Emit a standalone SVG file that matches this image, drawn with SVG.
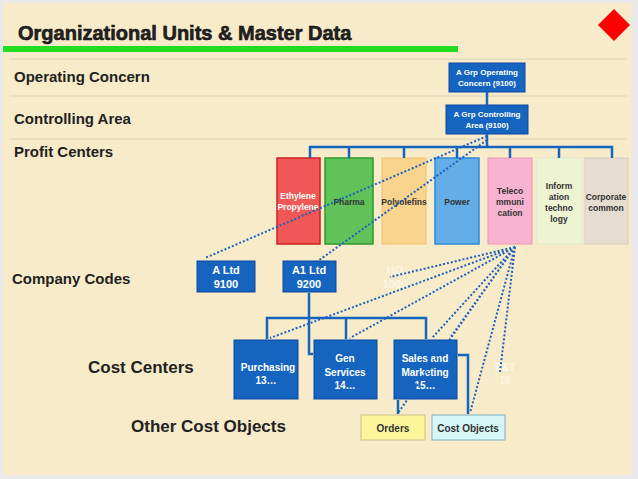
<svg xmlns="http://www.w3.org/2000/svg" width="638" height="479" viewBox="0 0 638 479">
<defs><style>
.lbl{font-family:"Liberation Sans",Arial,sans-serif;font-weight:bold;fill:#222}
.bx{fill:#1565c0;stroke:#0d47a1;stroke-width:1}
.wt{font-family:"Liberation Sans",Arial,sans-serif;font-weight:bold;fill:#fff;text-anchor:middle}
.dk{font-family:"Liberation Sans",Arial,sans-serif;font-weight:bold;fill:#333;text-anchor:middle;font-size:8.5px}
.tree{stroke:#1565c0;stroke-width:2.5;fill:none}
.dot{stroke:#1e5fc0;stroke-width:2;stroke-dasharray:2 2;fill:none}
.sep{stroke:#ddd3bb;stroke-width:1}
</style></defs>
<rect width="638" height="479" fill="#e9e9e9"/>
<rect x="3" y="3" width="628" height="472" fill="#f8ebc9"/>
<text x="18" y="40" class="lbl" font-size="20" fill="#111" stroke="#111" stroke-width="0.6">Organizational Units &amp; Master Data</text>
<rect x="3" y="46" width="455" height="6" fill="#22dd22"/>
<polygon points="614,9 630,25 614,41 598,25" fill="#ff0000"/>
<line class="sep" x1="10" y1="59" x2="627" y2="59"/>
<line class="sep" x1="10" y1="96" x2="627" y2="96"/>
<line class="sep" x1="10" y1="139" x2="627" y2="139"/>
<g id="labels">
<text x="14" y="82" class="lbl" font-size="15">Operating Concern</text>
<text x="14" y="124" class="lbl" font-size="15">Controlling Area</text>
<text x="14" y="157" class="lbl" font-size="15">Profit Centers</text>
<text x="12" y="284" class="lbl" font-size="15">Company Codes</text>
<text x="88" y="373" class="lbl" font-size="17">Cost Centers</text>
<text x="131" y="432" class="lbl" font-size="17">Other Cost Objects</text>
</g>
<g id="opconcern"><rect class="bx" x="449" y="63" width="76" height="29"/><text class="wt" font-size="8" x="487" y="75">A Grp Operating</text><text class="wt" font-size="8" x="487" y="86">Concern (9100)</text></g>
<g id="ctrlarea"><rect class="bx" x="446" y="105" width="82" height="29"/><text class="wt" font-size="8" x="487" y="117">A Grp Controlling</text><text class="wt" font-size="8" x="487" y="128">Area (9100)</text></g>
<g id="pc1"><rect x="277" y="158" width="43" height="86" fill="#f25757" stroke="#cc2222" stroke-width="1.5"/><text class="wt" font-size="8.5" x="298" y="199">Ethylene</text><text class="wt" font-size="8.5" x="298" y="210">Propylene</text></g>
<g id="pc2"><rect x="325" y="158" width="48" height="86" fill="#5fc35a" stroke="#2e9a2e" stroke-width="1.5"/><text class="dk" x="349" y="205">Pharma</text></g>
<g id="pc3"><rect x="382" y="158" width="44" height="86" fill="#f9d48c" stroke="#f0c070" stroke-width="1"/><text class="dk" x="404" y="205">Polyolefins</text></g>
<g id="pc4"><rect x="435" y="158" width="44" height="86" fill="#64aee8" stroke="#2b8ad8" stroke-width="1.5"/><text class="dk" x="457" y="205">Power</text></g>
<g id="pc5"><rect x="488" y="158" width="44" height="86" fill="#f7b3cf" stroke="#e898b8" stroke-width="1"/><text class="dk" x="510" y="194">Teleco</text><text class="dk" x="510" y="205">mmuni</text><text class="dk" x="510" y="216">cation</text></g>
<g id="pc6"><rect x="537" y="158" width="45" height="86" fill="#eef3d4" stroke="#e2ead0" stroke-width="1"/><text class="dk" x="559" y="189">Inform</text><text class="dk" x="559" y="200">ation</text><text class="dk" x="559" y="211">techno</text><text class="dk" x="559" y="222">logy</text></g>
<g id="pc7"><rect x="585" y="158" width="43" height="86" fill="#e4ddd0" stroke="#d8d0c0" stroke-width="1"/><text class="dk" x="606" y="200">Corporate</text><text class="dk" x="606" y="211">common</text></g>
<g id="altd"><rect class="bx" x="197" y="261" width="58" height="31"/><text class="wt" font-size="11" x="226" y="274">A Ltd</text><text class="wt" font-size="11" x="226" y="288">9100</text></g>
<g id="a1ltd"><rect class="bx" x="283" y="261" width="53" height="31"/><text class="wt" font-size="11" x="309" y="274">A1 Ltd</text><text class="wt" font-size="11" x="309" y="288">9200</text></g>
<g id="hq"><text class="wt" font-size="11" x="395" y="274" fill-opacity="0.55">HQ</text><text class="wt" font-size="11" x="395" y="288" fill-opacity="0.55">1000</text></g>
<g id="purch"><rect class="bx" x="234" y="340" width="64" height="59"/><text class="wt" font-size="10" x="268" y="371">Purchasing</text><text class="wt" font-size="10" x="266" y="384">13…</text></g>
<g id="gen"><rect class="bx" x="314" y="340" width="63" height="59"/><text class="wt" font-size="10" x="345" y="362">Gen</text><text class="wt" font-size="10" x="345" y="376">Services</text><text class="wt" font-size="10" x="345" y="389">14…</text></g>
<g id="sales"><rect class="bx" x="394" y="340" width="63" height="59"/><text class="wt" font-size="10" x="425" y="362">Sales and</text><text class="wt" font-size="10" x="425" y="376">Marketing</text><text class="wt" font-size="10" x="425" y="389">15…</text></g>
<g id="rt"><text class="wt" font-size="10" x="505" y="371" fill-opacity="0.55">R&amp;T</text><text class="wt" font-size="10" x="505" y="384" fill-opacity="0.55">16</text></g>
<g id="orders"><rect x="361" y="415" width="64" height="25" fill="#fcf59a" stroke="#c8c090"/><text class="dk" x="393" y="432" style="font-size:10px">Orders</text></g>
<g id="costobj"><rect x="432" y="415" width="73" height="25" fill="#d6f6f8" stroke="#7fb0c0"/><text class="dk" x="468" y="432" style="font-size:10px">Cost Objects</text></g>
<g id="connectors">
<line class="tree" x1="487" y1="92" x2="487" y2="105"/>
<line class="tree" x1="487" y1="134" x2="487" y2="147"/>
<path class="tree" d="M310,158V147H612V158 M349,147V158 M404,147V158 M457,147V158 M510,147V158 M559,147V158"/>
<path class="tree" d="M309,293V354H313 M267,339V318H426V339 M346,318V339 M458,355H468V414 M398,400V414"/>
<path class="dot" d="M487,136L205,258 M487,140L318,261"/>
<path class="dot" d="M515,247L390,277 M515,247L270,338 M515,247L350,338 M515,247L432,338 M515,247L450,338 M515,247L398,413 M515,247L470,413 M515,247L500,372"/>
</g>
</svg>
